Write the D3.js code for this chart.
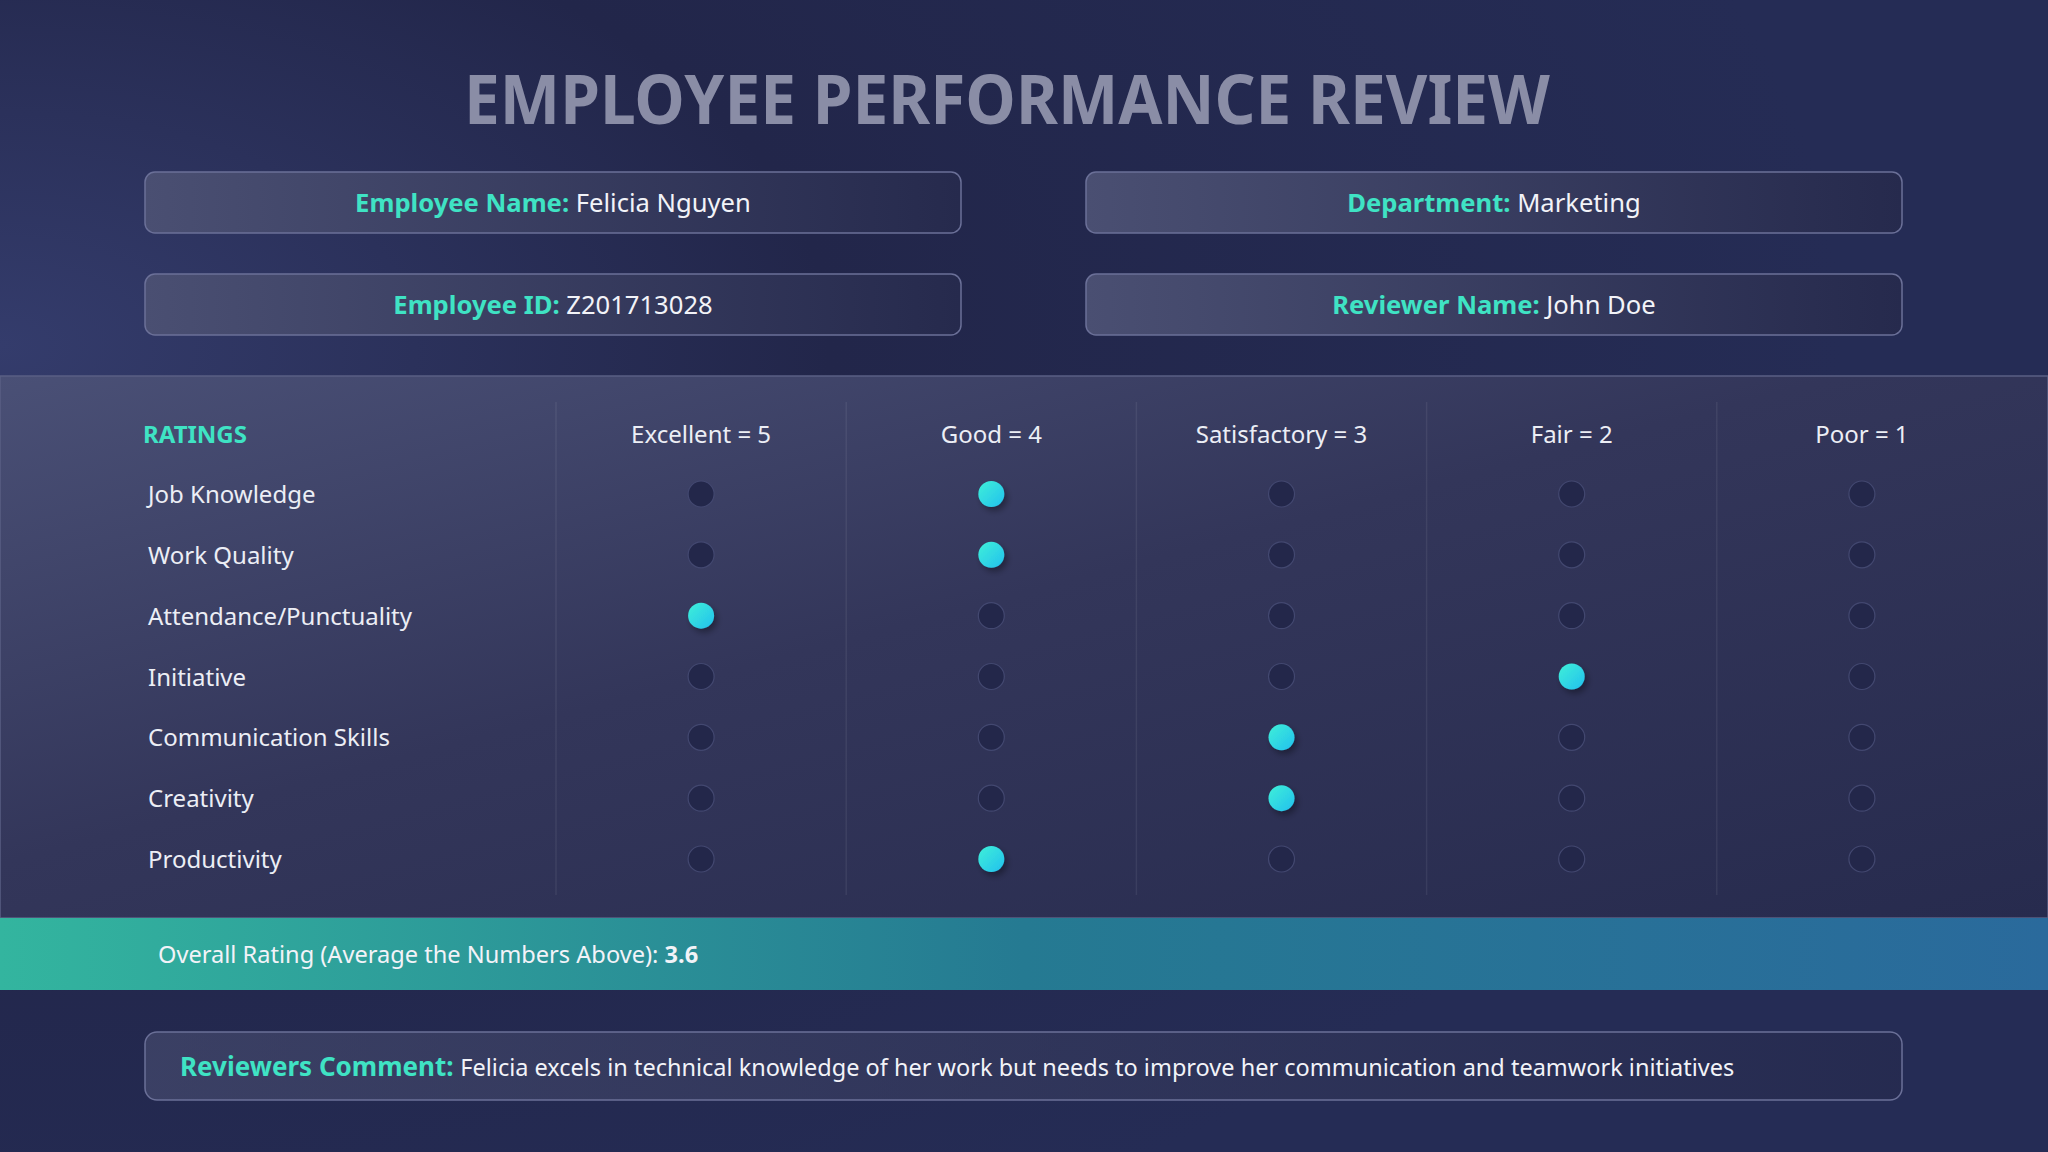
<!DOCTYPE html>
<html lang="en">
<head>
<meta charset="UTF-8">
<title>Employee Performance Review</title>
<script src="https://d3js.org/d3.v7.min.js"></script>
<style>
  html, body { margin: 0; padding: 0; background: #22264a; }
  svg { display: block; font-family: "Noto Sans", "Open Sans", sans-serif; }
</style>
</head>
<body>
<div id="chart"></div>
<script>
// data
const infoLabels = ["Employee Name:", "Department:", "Employee ID:", "Reviewer Name:"];
const infoValues = ["Felicia Nguyen", "Marketing", "Z201713028", "John Doe"];
const scaleLabels = ["Excellent = 5", "Good = 4", "Satisfactory = 3", "Fair = 2", "Poor = 1"];
const scaleValues = [5, 4, 3, 2, 1];
const criteria = ["Job Knowledge", "Work Quality", "Attendance/Punctuality", "Initiative",
                  "Communication Skills", "Creativity", "Productivity"];
const ratings = [4, 4, 5, 2, 3, 3, 4];
const comment = "Felicia excels in technical knowledge of her work but needs to improve her communication and teamwork initiatives";

const W = 2048, H = 1152;
const teal = "#3fe3c4";

const svg = d3.select("#chart").append("svg")
    .attr("width", W).attr("height", H);

const defs = svg.append("defs");
const bg = defs.append("radialGradient").attr("id", "bg")
    .attr("cx", "0").attr("cy", "0.3").attr("r", "0.9");
bg.append("stop").attr("offset", "0").attr("stop-color", "#343c6c");
bg.append("stop").attr("offset", "0.45").attr("stop-color", "#22264a");
bg.append("stop").attr("offset", "1").attr("stop-color", "#252c55");

const panel = defs.append("linearGradient").attr("id", "panel")
    .attr("x1", "0").attr("y1", "0").attr("x2", "1").attr("y2", "1");
panel.append("stop").attr("offset", "0").attr("stop-color", "#4a5076");
panel.append("stop").attr("offset", "0.45").attr("stop-color", "#33365a");
panel.append("stop").attr("offset", "1").attr("stop-color", "#272b4e");

const box = defs.append("linearGradient").attr("id", "box")
    .attr("x1", "0").attr("y1", "0").attr("x2", "1").attr("y2", "0");
box.append("stop").attr("offset", "0").attr("stop-color", "#4a4f72");
box.append("stop").attr("offset", "1").attr("stop-color", "#262a4d");

const bar = defs.append("linearGradient").attr("id", "bar")
    .attr("x1", "0").attr("y1", "0").attr("x2", "1").attr("y2", "0");
bar.append("stop").attr("offset", "0").attr("stop-color", "#33b59f");
bar.append("stop").attr("offset", "0.5").attr("stop-color", "#257a92");
bar.append("stop").attr("offset", "1").attr("stop-color", "#2a6a9c");

const dot = defs.append("linearGradient").attr("id", "dot")
    .attr("x1", "0").attr("y1", "0").attr("x2", "1").attr("y2", "1");
dot.append("stop").attr("offset", "0").attr("stop-color", "#3ff0d8");
dot.append("stop").attr("offset", "1").attr("stop-color", "#22c0ee");

const shadow = defs.append("filter").attr("id", "shadow")
    .attr("x", "-50%").attr("y", "-50%").attr("width", "200%").attr("height", "200%");
shadow.append("feDropShadow").attr("dx", 3).attr("dy", 4).attr("stdDeviation", 3)
    .attr("flood-color", "#000").attr("flood-opacity", 0.35);

svg.append("rect").attr("width", W).attr("height", H).attr("fill", "url(#bg)");

// title
svg.append("text")
    .attr("x", 1007).attr("y", 124)
    .attr("text-anchor", "middle")
    .attr("font-size", 68).attr("font-weight", 700)
    .attr("fill", "#8a8da6")
    .attr("textLength", 1086).attr("lengthAdjust", "spacingAndGlyphs")
    .text("EMPLOYEE PERFORMANCE REVIEW");

// info boxes
const boxW = 816, boxH = 61;
const boxX = [145, 1086];
const boxY = [172, 274];

infoLabels.forEach((lab, i) => {
  const col = i % 2, row = Math.floor(i / 2);
  const g = svg.append("g");
  g.append("rect")
      .attr("x", boxX[col]).attr("y", boxY[row])
      .attr("width", boxW).attr("height", boxH)
      .attr("rx", 10).attr("fill", "url(#box)")
      .attr("stroke", "#6b7098").attr("stroke-width", 1.5);
  const t = g.append("text")
      .attr("x", boxX[col] + boxW / 2)
      .attr("y", boxY[row] + boxH / 2 + 9)
      .attr("text-anchor", "middle").attr("font-size", 25.6);
  t.append("tspan").attr("fill", teal).attr("font-weight", 700).text(lab + " ");
  t.append("tspan").attr("fill", "#f2f3f8").text(infoValues[i]);
});

// ratings panel
svg.append("rect").attr("x", 0).attr("y", 376).attr("width", W).attr("height", 542)
    .attr("fill", "url(#panel)").attr("stroke", "#5a5f84").attr("stroke-width", 1.5);

const x = d3.scaleBand().domain(scaleValues).range([556, 2007]);
const y = d3.scalePoint().domain(criteria).range([494, 859]);

svg.selectAll(".divider").data(scaleValues).enter().append("line")
    .attr("x1", d => x(d)).attr("x2", d => x(d))
    .attr("y1", 402).attr("y2", 895)
    .attr("stroke", "#ffffff").attr("stroke-opacity", 0.07).attr("stroke-width", 1.5);

svg.append("text").attr("x", 143).attr("y", 443)
    .attr("font-size", 24).attr("font-weight", 700).attr("fill", teal)
    .text("RATINGS");

svg.selectAll(".scale-label").data(scaleLabels).enter().append("text")
    .attr("x", (d, i) => x(scaleValues[i]) + x.bandwidth() / 2)
    .attr("y", 443).attr("text-anchor", "middle")
    .attr("font-size", 24).attr("fill", "#eceef5")
    .text(d => d);

svg.selectAll(".crit").data(criteria).enter().append("text")
    .attr("x", 148).attr("y", d => y(d) + 9)
    .attr("font-size", 24).attr("fill", "#eceef5")
    .text(d => d);

const cells = [];
criteria.forEach((c, i) => scaleValues.forEach(v => cells.push({ c, v, on: ratings[i] === v })));

svg.selectAll(".cell").data(cells).enter().append("circle")
    .attr("cx", d => x(d.v) + x.bandwidth() / 2)
    .attr("cy", d => y(d.c))
    .attr("r", 13)
    .attr("fill", d => d.on ? "url(#dot)" : "#23274a")
    .attr("stroke", d => d.on ? "none" : "#434870")
    .attr("stroke-width", 1.2)
    .attr("filter", d => d.on ? "url(#shadow)" : null);

// overall bar
const avg = d3.mean(ratings);
svg.append("rect").attr("x", 0).attr("y", 918).attr("width", W).attr("height", 72)
    .attr("fill", "url(#bar)");
const ov = svg.append("text").attr("x", 158).attr("y", 963)
    .attr("font-size", 23.6).attr("fill", "#f2f3f8");
ov.append("tspan").text("Overall Rating (Average the Numbers Above): ");
ov.append("tspan").attr("font-weight", 700).text(avg.toFixed(1));

// comment box
svg.append("rect").attr("x", 145).attr("y", 1032).attr("width", 1757).attr("height", 68)
    .attr("rx", 12).attr("fill", "url(#box)").attr("fill-opacity", 0.6)
    .attr("stroke", "#6b7098").attr("stroke-width", 1.5);
const cm = svg.append("text").attr("x", 180).attr("y", 1076).attr("font-size", 23.5);
cm.append("tspan").attr("fill", teal).attr("font-weight", 700).attr("font-size", 26).text("Reviewers Comment: ");
cm.append("tspan").attr("fill", "#f2f3f8").text(comment);
</script>
</body>
</html>
